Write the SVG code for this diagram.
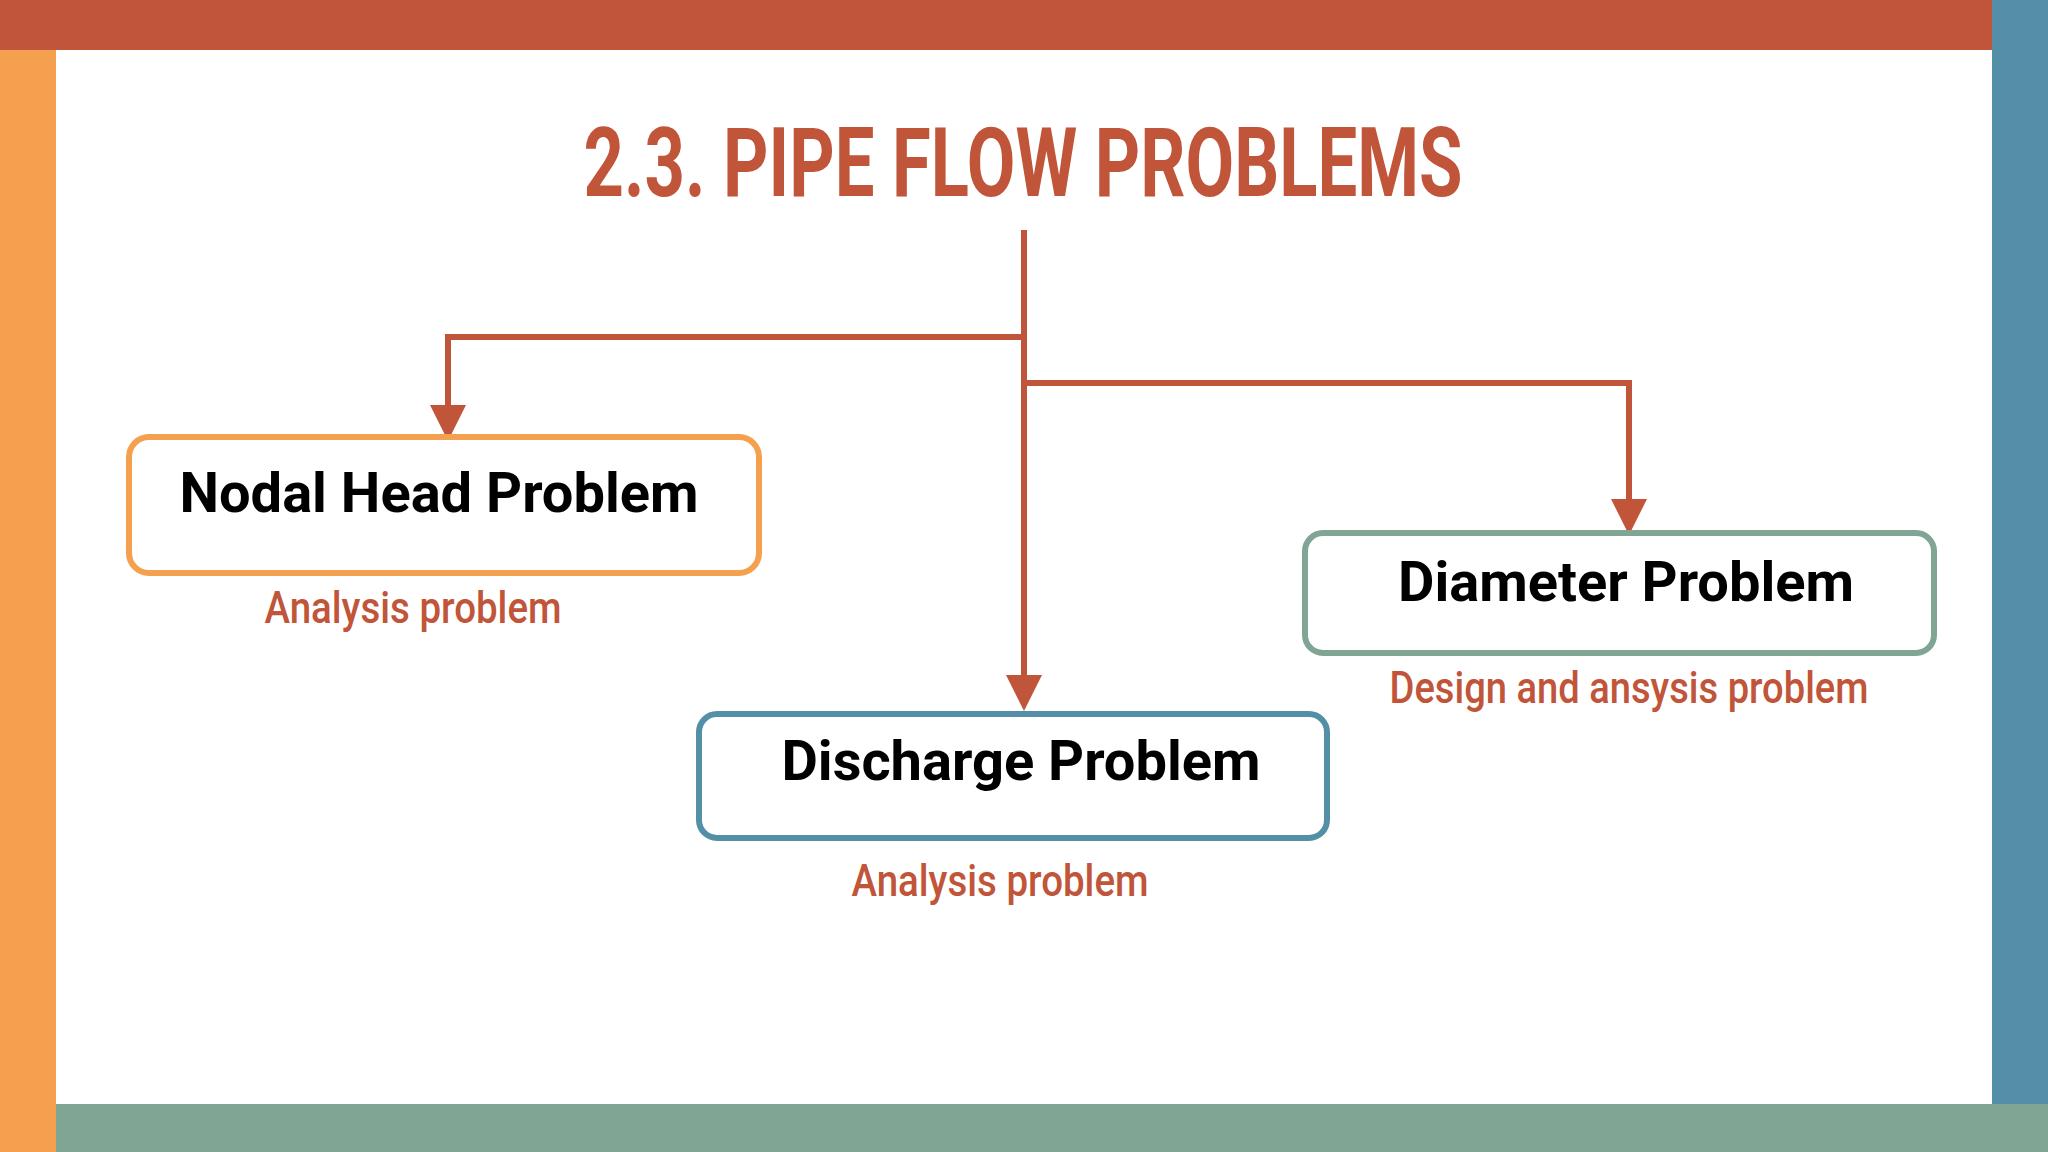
<svg xmlns="http://www.w3.org/2000/svg" width="2048" height="1152" viewBox="0 0 2048 1152">
<defs>
<style>
.box{fill:#fff;stroke-width:6}
.lbl{font-family:Roboto,"Liberation Sans",sans-serif;font-weight:bold;font-size:56px;fill:#000;text-anchor:middle}
.sub{font-family:Roboto,"Liberation Sans",sans-serif;font-weight:500;font-size:44px;fill:#C0553A;text-anchor:middle}
.con{fill:none;stroke:#C0553A;stroke-width:6}
</style>
<marker id="ah" markerWidth="6" markerHeight="6" refX="5" refY="3" orient="auto" markerUnits="strokeWidth"><path d="M0,0L6,3L0,6z" fill="#C0553A"/></marker>
</defs>
<rect width="2048" height="1152" fill="#fff"/>
<rect x="0" y="0" width="1992" height="50" fill="#C0553A"/>
<rect x="0" y="50" width="56" height="1102" fill="#F5A04F"/>
<rect x="1992" y="0" width="56" height="1104" fill="#548FA8"/>
<rect x="56" y="1104" width="1992" height="48" fill="#80A595"/>
<text x="1023" y="196" font-family="Roboto,'Liberation Sans',sans-serif" font-weight="bold" font-size="96" fill="#C0553A" text-anchor="middle" textLength="879" lengthAdjust="spacingAndGlyphs">2.3. PIPE FLOW PROBLEMS</text>
<g id="connectors">
<path class="con" d="M1024,230V705" marker-end="url(#ah)"/>
<path class="con" d="M1024,337H448V435" marker-end="url(#ah)"/>
<path class="con" d="M1024,383H1629V529" marker-end="url(#ah)"/>
</g>
<g id="nodal">
<rect class="box" x="129" y="437" width="630" height="136" rx="20" stroke="#F5A04F"/>
<text class="lbl" x="439" y="512">Nodal Head Problem</text>
<text class="sub" x="413" y="623" textLength="297" lengthAdjust="spacingAndGlyphs">Analysis problem</text>
</g>
<g id="diameter">
<rect class="box" x="1305" y="533" width="629" height="120" rx="18" stroke="#80A595"/>
<text class="lbl" x="1626" y="601">Diameter Problem</text>
<text class="sub" x="1629" y="703" textLength="479" lengthAdjust="spacingAndGlyphs">Design and ansysis problem</text>
</g>
<g id="discharge">
<rect class="box" x="699" y="714" width="628" height="124" rx="18" stroke="#548FA8"/>
<text class="lbl" x="1021" y="780">Discharge Problem</text>
<text class="sub" x="1000" y="896" textLength="297" lengthAdjust="spacingAndGlyphs">Analysis problem</text>
</g>
</svg>
